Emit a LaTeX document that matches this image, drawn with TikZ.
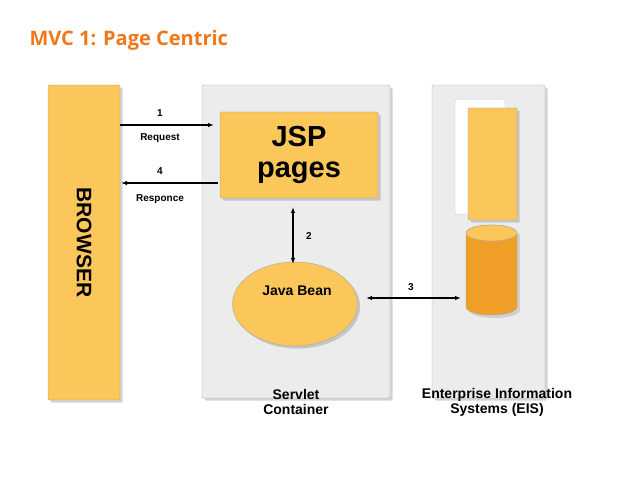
\documentclass[tikz,border=0pt]{standalone}
\usepackage{fontspec}
\setmainfont{Liberation Sans}
\newfontfamily\titlefont{Open Sans}
\usetikzlibrary{shapes.geometric,shadows,arrows.meta}
\definecolor{boxorange}{HTML}{FBC65A}
\definecolor{dborange}{HTML}{F0A028}
\definecolor{panelgray}{HTML}{ECECEC}
\definecolor{titleorange}{HTML}{F07818}
\tikzset{
  panel/.style={draw=gray!60, fill=panelgray, rounded corners=2pt, drop shadow={opacity=0.35}},
  block/.style={draw=gray!70, fill=boxorange, rounded corners=1pt, drop shadow={opacity=0.35}},
  link/.style={{Latex[length=6pt]}-{Latex[length=6pt]}, line width=1.2pt},
  tag/.style={font=\fontsize{10}{12}\selectfont\bfseries}
}
\begin{document}
\begin{tikzpicture}[x=1pt,y=-1pt]
    \useasboundingbox (0,0) rectangle (638,478);
    % Title
    \node[anchor=west, text=titleorange, font=\titlefont\bfseries\fontsize{20}{24}\selectfont] (title) at (26,40) {MVC 1: Page Centric};

    % Containers
    \node[panel, minimum width=188pt, minimum height=313pt] (servlet) at (296,241.5) {};
    \node[panel, minimum width=113pt, minimum height=313pt] (eis) at (488.5,241.5) {};

    % Browser
    \node[block, minimum width=72pt, minimum height=315pt] (browser) at (84,242.5) {};
    \node[rotate=-90, font=\bfseries\fontsize{21}{24}\selectfont] (browsertxt) at (browser.center) {BROWSER};

    % JSP pages and bean
    \node[block, minimum width=158pt, minimum height=86pt, align=center, font=\bfseries\fontsize{29}{31}\selectfont, inner sep=0pt] (jsp) at (299,155) {JSP\\pages};
    \node[ellipse, draw=gray!70, fill=boxorange, drop shadow={opacity=0.35}, minimum width=125pt, minimum height=84pt] (bean) at (295,304) {};
    \node[font=\bfseries\fontsize{14}{16}\selectfont] (beantxt) at (297,291) {Java Bean};

    % EIS parts
    \node[draw=gray!40, fill=white, rounded corners=1pt, minimum width=50pt, minimum height=115pt] (page2) at (480,157) {};
    \node[block, minimum width=49pt, minimum height=112pt] (page1) at (492.5,164) {};
    % database cylinder
    \fill[black!40, opacity=0.35] (469,236) arc[x radius=25.5, y radius=8, start angle=180, end angle=360]
        -- (520,310) arc[x radius=25.5, y radius=8, start angle=0, end angle=180] -- cycle;
    \filldraw[draw=gray!70, fill=dborange] (466,233) arc[x radius=25.5, y radius=8, start angle=180, end angle=360]
        -- (517,307) arc[x radius=25.5, y radius=8, start angle=0, end angle=180] -- cycle;
    \filldraw[draw=gray!70, fill=boxorange] (491.5,233) ellipse[x radius=25.5, y radius=8];
    \coordinate (db) at (466,298);

    % Connectors
    \coordinate (req1) at (120,125);
    \coordinate (req2) at (214,125);
    \coordinate (res1) at (218,183);
    \coordinate (res2) at (121,183);
    \coordinate (b2a) at (293,207);
    \coordinate (b2b) at (293,264);
    \coordinate (b3a) at (366,298);
    \draw[-{Latex[length=6pt]}, line width=1.2pt] (req1) -- (req2);
    \draw[-{Latex[length=6pt]}, line width=1.2pt] (res1) -- (res2);
    \draw[link] (b2a) -- (b2b);
    \draw[link] (b3a) -- ([xshift=-5pt]db);
    \node[tag] (n1) at (160,113) {1};
    \node[tag] (rq) at (160,138) {Request};
    \node[tag] (n4) at (160,171) {4};
    \node[tag] (rs) at (160,199) {Responce};
    \node[tag] (n2) at (309,236) {2};
    \node[tag] (n3) at (411,287) {3};

    % Captions
    \node[align=center, font=\bfseries\fontsize{14}{15}\selectfont, inner sep=0pt] (servlettxt) at (296,402) {Servlet\\Container};
    \node[align=center, font=\bfseries\fontsize{14}{15}\selectfont, inner sep=0pt] (eistxt) at (497,402) {Enterprise Information\\Systems (EIS)};
\end{tikzpicture}
\end{document}
